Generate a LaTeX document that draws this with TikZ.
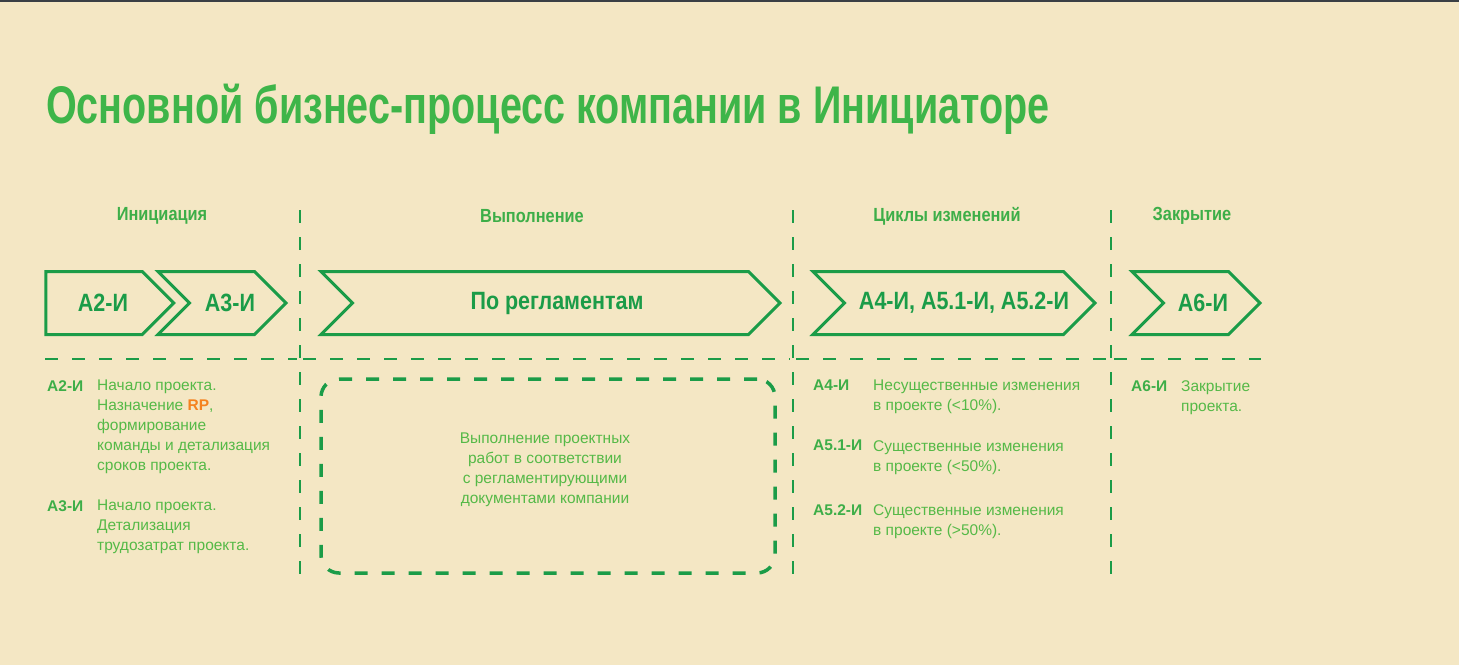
\documentclass[tikz,border=0pt]{standalone}
\usepackage{fontspec}
\setmainfont{Liberation Sans}
\newfontfamily\condfont{Liberation Sans}[FakeStretch=0.86]
\newfontfamily\titlefont{Liberation Sans}[FakeStretch=0.746]
\usetikzlibrary{shapes.symbols}
\definecolor{bg}{HTML}{F4E7C4}
\definecolor{gtitle}{HTML}{3EB549}
\definecolor{gdark}{HTML}{1B9C48}
\definecolor{gmid}{HTML}{3DAE48}
\definecolor{glight}{HTML}{55B947}
\definecolor{rporange}{HTML}{F5821F}
\definecolor{topline}{HTML}{3A3F44}

\begin{document}
\begin{tikzpicture}[x=1pt,y=-1pt,
   chev/.style={signal,draw=gdark,line width=3pt,signal to=east,
    signal pointer angle=90,minimum height=63pt,inner sep=0pt},
   notch/.style={chev,signal from=west},
   chevtext/.style={text=gdark,font=\condfont\bfseries\fontsize{25}{30}\selectfont},
   phase/.style={text=gmid,font=\condfont\bfseries\fontsize{19}{23}\selectfont},
   code/.style={anchor=north west,inner sep=0pt,text=gmid,
    font=\bfseries\fontsize{15.5}{20}\selectfont},
   desc/.style={anchor=north west,inner sep=0pt,align=left,text=glight,
    font=\fontsize{15.5}{20}\selectfont},
   divider/.style={draw=gdark,line width=1.6pt,dash pattern=on 13pt off 14pt},
   workbox/.style={draw=gdark,line width=3.5pt,rounded corners=18pt,
    dash pattern=on 13pt off 14pt}
    ]
  \useasboundingbox (0,0) rectangle (1459,665);
  \fill[bg] (0,0) rectangle (1459,665);
  \fill[topline] (0,0) rectangle (1459,1.5);

  % -- title
  \node[anchor=base west,inner sep=0pt,text=gtitle,
    font=\titlefont\bfseries\fontsize{53}{60}\selectfont]
    at (46,123) (title) {Основной бизнес-процесс компании в Инициаторе};

  % -- phases
  \node[phase] at (162,216) (ph1) {Инициация};
  \node[phase] at (532,216) (ph2) {Выполнение};
  \node[phase] at (947,216) (ph3) {Циклы изменений};
  \node[phase] at (1192,216) (ph4) {Закрытие};

  % -- dividers
  \draw[divider] (300,210) -- (300,576);
  \draw[divider] (793,210) -- (793,576);
  \draw[divider] (1111,210) -- (1111,576);
  \draw[divider] (45,359) -- (297,359);
  \draw[divider] (303,359) -- (790,359);
  \draw[divider] (796,359) -- (1108,359);
  \draw[divider] (1114,359) -- (1261,359);

  % -- chevrons
  \node[chev,minimum width=128pt] at (94,303) (c2) {};
  \node[notch,minimum width=128pt] at (222,303) (c3) {};
  \node[notch,minimum width=459pt] at (550.5,303) (reg) {};
  \node[notch,minimum width=282pt] at (954,303) (c45) {};
  \node[notch,minimum width=128pt] at (1196,303) (c6) {};
  \node[chevtext] at (103,303) (t2) {А2-И};
  \node[chevtext] at (230,303) (t3) {А3-И};
  \node[chevtext] at (557,303) (treg) {По регламентам};
  \node[chevtext] at (964,303) (t45) {А4-И, А5.1-И, А5.2-И};
  \node[chevtext] at (1203,303) (t6) {А6-И};

  % -- initiation
  \node[code] at (47,380) (k2) {А2-И};
  \node[desc] at (97,380) (d2) {Начало проекта.\\
    Назначение {\bfseries\color{rporange}RP},\\формирование\\
    команды и детализация\\сроков проекта.};
  \node[code] at (47,500) (k3) {А3-И};
  \node[desc] at (97,500) (d3) {Начало проекта.\\Детализация\\
    трудозатрат проекта.};

  % -- execution
  \node[workbox,minimum width=454pt,minimum height=194pt] at (548,476) (work) {};
  \node[align=center,text=glight,font=\fontsize{15.5}{20}\selectfont]
    at (545,470) (worktext) {Выполнение проектных\\работ в соответствии\\
    с регламентирующими\\документами компании};

  % -- change cycles
  \node[code] at (813,380) (k4) {А4-И};
  \node[desc] at (873,380) (d4) {Несущественные изменения\\в проекте (<10\%).};
  \node[code] at (813,440) (k51) {А5.1-И};
  \node[desc] at (873,440) (d51) {Существенные изменения\\в проекте (<50\%).};
  \node[code] at (813,504) (k52) {А5.2-И};
  \node[desc] at (873,504) (d52) {Существенные изменения\\в проекте (>50\%).};

  % -- closing
  \node[code] at (1131,380) (k6) {А6-И};
  \node[desc] at (1181,380) (d6) {Закрытие\\проекта.};
\end{tikzpicture}
\end{document}
